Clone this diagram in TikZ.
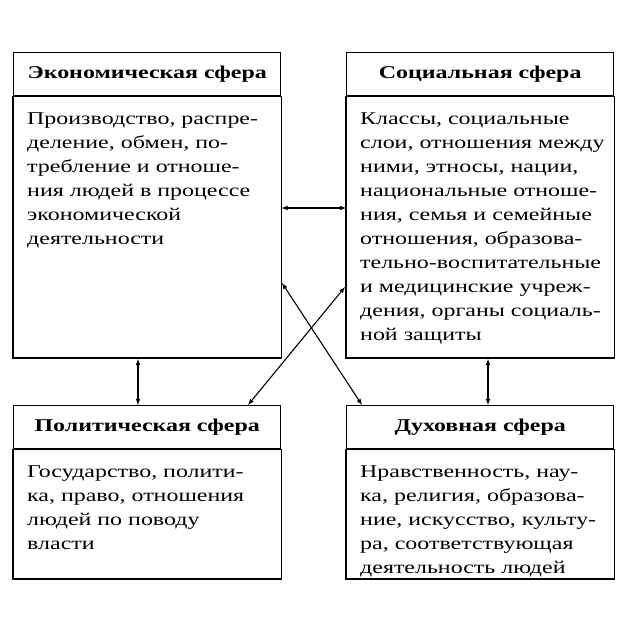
\documentclass[tikz,border=0pt]{standalone}
\usepackage{fontspec}
\setmainfont[FakeStretch=1.33]{Liberation Serif}
\usetikzlibrary{positioning}
\tikzset{
  head/.style={draw,line width=1.4pt,minimum width=267pt,minimum height=43pt,anchor=north west,inner sep=0pt,font=\fontsize{18}{20}\selectfont\bfseries},
  bodytext/.style={anchor=north west,inner xsep=14pt,inner ysep=8pt,yshift=-10pt,text width=250pt,align=left,font=\fontsize{18}{24}\selectfont},
  frame/.style={draw,line width=1.4pt},
  link/.style={line width=1.1pt,<->,>=latex}
}
\begin{document}
\begin{tikzpicture}[x=1pt,y=1pt,yscale=-1,xscale=1]
\useasboundingbox (0,0) rectangle (640,640);
\node[head] (econ) at (13,52) {Экономическая сфера};
\node[bodytext] (econtxt) at (13,95) {Производство, распре-\\деление, обмен, по-\\требление и отноше-\\ния людей в процессе\\экономической\\деятельности};
\draw[frame] (econ.south west) rectangle (econ.east |- 0,358);
\node[head] (soc) at (346,52) {Социальная сфера};
\node[bodytext] (soctxt) at (346,95) {Классы, социальные\\слои, отношения между\\ними, этносы, нации,\\национальные отноше-\\ния, семья и семейные\\отношения, образова-\\тельно-воспитательные\\и медицинские учреж-\\дения, органы социаль-\\ной защиты};
\draw[frame] (soc.south west) rectangle (soc.east |- 0,358);
\node[head] (pol) at (13,405) {Политическая сфера};
\node[bodytext] (poltxt) at (13,448) {Государство, полити-\\ка, право, отношения\\людей по поводу\\власти};
\draw[frame] (pol.south west) rectangle (pol.east |- 0,579);
\node[head] (dukh) at (346,405) {Духовная сфера};
\node[bodytext] (dukhtxt) at (346,448) {Нравственность, нау-\\ка, религия, образова-\\ние, искусство, культу-\\ра, соответствующая\\деятельность людей};
\draw[frame] (dukh.south west) rectangle (dukh.east |- 0,579);
% connectors
\draw[link] (econ.east |- 0,208) -- (soc.west |- 0,208);
\draw[link] (econ.west |- 0,359) ++(125,0) -- (pol.north -| 138,0);
\draw[link] (soc.west |- 0,359) ++(142,0) -- (dukh.north -| 488,0);
\coordinate (c1) at (282,283);
\coordinate (c2) at (345,287);
\draw[link] (c1) -- (dukh.north -| 362,0);
\draw[link] (c2) -- (pol.north -| 248,0);
\end{tikzpicture}
\end{document}
